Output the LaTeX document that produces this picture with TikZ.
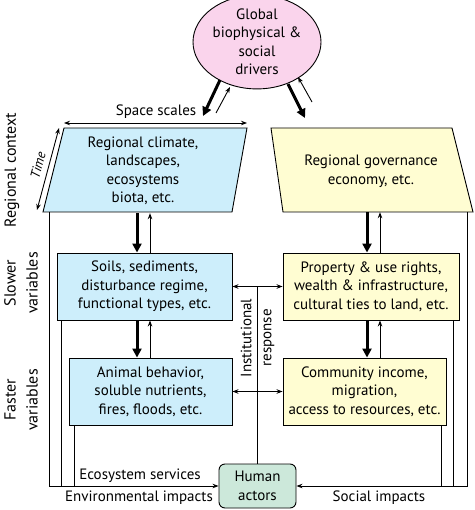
\documentclass[tikz,border=0pt]{standalone}
\usepackage{fontspec}
\setmainfont{PT Sans}
\usetikzlibrary{arrows.meta,shapes.geometric,calc}
\definecolor{blueF}{RGB}{205,238,251}
\definecolor{yellowF}{RGB}{255,253,210}
\definecolor{pinkF}{RGB}{250,212,236}
\definecolor{greenF}{RGB}{204,232,218}
\begin{document}
\begin{tikzpicture}[x=1pt,y=-1pt,
  txt/.style={font=\fontsize{15}{18.5}\selectfont, align=center, inner sep=0pt},
  side/.style={font=\fontsize{16}{22}\selectfont, align=center, inner sep=0pt, rotate=90},
  box/.style={draw, line width=0.9pt, txt},
  ln/.style={line width=0.9pt},
  thin/.style={line width=0.9pt, -{Stealth[length=6pt,width=4.5pt]}},
  dbl/.style={line width=0.9pt, {Stealth[length=6pt,width=4.5pt]}-{Stealth[length=6pt,width=4.5pt]}},
  fat/.style={line width=3pt, -{Triangle[length=9pt,width=9pt]}}]
\useasboundingbox (0,0) rectangle (474,510);

% global drivers
\node[ellipse, draw, line width=0.9pt, fill=pinkF, minimum width=128pt, minimum height=82pt, txt] (drivers) at (257,42) {Global\\biophysical \&\\social\\drivers};

% regional context shapes
\coordinate (cTL) at (64,128);
\coordinate (cTR) at (247,128);
\coordinate (cBR) at (232,212);
\coordinate (cBL) at (43,212);
\draw[ln, fill=blueF] (cTL) -- (cTR) -- (cBR) -- (cBL) -- cycle;
\node[txt, minimum width=170pt, minimum height=84pt] (climate) at (143,171) {Regional climate,\\landscapes,\\ecosystems\\biota, etc.};

\coordinate (gTL) at (271,128);
\coordinate (gTR) at (452,128);
\coordinate (gBR) at (473,212);
\coordinate (gBL) at (283,212);
\draw[ln, fill=yellowF] (gTL) -- (gTR) -- (gBR) -- (gBL) -- cycle;
\node[txt, minimum width=170pt, minimum height=82pt] (gov) at (371,171) {Regional governance\\economy, etc.};

% boxes
\node[box, fill=blueF, minimum width=175pt, minimum height=67pt] (soils) at (144.5,286.5) {Soils, sediments,\\disturbance regime,\\functional types, etc.};
\node[box, fill=yellowF, minimum width=176pt, minimum height=67pt] (prop) at (371,286.5) {Property \& use rights,\\wealth \& infrastructure,\\cultural ties to land, etc.};
\node[box, fill=blueF, minimum width=163pt, minimum height=67pt] (animal) at (150.5,391.5) {Animal behavior,\\soluble nutrients,\\fires, floods, etc.};
\node[box, fill=yellowF, minimum width=163pt, minimum height=67pt] (comm) at (364.5,391.5) {Community income,\\migration,\\access to resources, etc.};
\node[box, fill=greenF, rounded corners=6pt, minimum width=77pt, minimum height=44pt] (human) at (257.5,486) {Human\\actors};

% drivers arrows
\coordinate (d1a) at (220,80);
\coordinate (d1b) at (203,116);
\coordinate (d2a) at (216,113);
\coordinate (d2b) at (230,87);
\coordinate (d3a) at (288,84);
\coordinate (d3b) at (305,118);
\coordinate (d4a) at (312,102);
\coordinate (d4b) at (298,77);
\draw[fat] (d1a) -- (d1b);
\draw[thin] (d2a) -- (d2b);
\draw[fat] (d3a) -- (d3b);
\draw[thin] (d4a) -- (d4b);

% scales
\draw[dbl] ([yshift=5pt]cTL) -- ([yshift=5pt]cTR);
\node[txt] (ss) at (156,112) {Space scales};
\draw[dbl] ($(cBL)+(-6,-2)$) -- ($(cTL)+(-5,0)$);
\node[txt, font=\fontsize{13.5}{18}\selectfont\itshape, rotate=75] (time) at (38,165) {Time};

% vertical arrows
\draw[fat] ([xshift=-6pt]climate.south) -- ([xshift=-6pt]climate.south |- soils.north);
\draw[thin] ([xshift=7pt]climate.south |- soils.north) -- ([xshift=7pt]climate.south);
\draw[fat] ([xshift=-7.5pt]soils.south) -- ([xshift=-7.5pt]soils.south |- animal.north);
\draw[thin] ([xshift=5.5pt]soils.south |- animal.north) -- ([xshift=5.5pt]soils.south);
\draw[fat] ([xshift=-4pt]gov.south) -- ([xshift=-4pt]gov.south |- prop.north);
\draw[thin] ([xshift=9pt]gov.south |- prop.north) -- ([xshift=9pt]gov.south);
\draw[fat] ([xshift=-4pt]prop.south) -- ([xshift=-4pt]prop.south |- comm.north);
\draw[thin] ([xshift=9pt]prop.south |- comm.north) -- ([xshift=9pt]prop.south);

% horizontal links
\draw[dbl] (soils.east) -- (prop.west);
\draw[dbl] (animal.east) -- (comm.west);
\draw[ln] (human.north) -- (human.north |- soils.east);
\node[txt, font=\fontsize{15}{20}\selectfont, rotate=90] (inst) at (257.5,338) {Institutional\\response};

% impacts lines
\draw[thin] ([xshift=6pt]cBL) |- (human.west);
\draw[ln] ([xshift=5pt]soils.south west) -- ([xshift=5pt]soils.south west |- human.west);
\draw[ln] ([xshift=6pt]animal.south west) -- ([xshift=6pt]animal.south west |- human.west);
\draw[thin] ([xshift=-6pt]gBR) |- (human.east);
\draw[ln] ([xshift=-6pt]prop.south east) -- ([xshift=-6pt]prop.south east |- human.east);
\draw[ln] ([xshift=-5pt]comm.south east) -- ([xshift=-5pt]comm.south east |- human.east);

\node[txt] (es) at (140,476) {Ecosystem services};
\node[txt] (ei) at (139,498) {Environmental impacts};
\node[txt] (si) at (379,498) {Social impacts};

% side labels
\node[side] (rc) at (12,170) {Regional context};
\node[side] (sv) at (21,283) {Slower\\variables};
\node[side] (fv) at (21,400) {Faster\\variables};
\end{tikzpicture}
\end{document}
